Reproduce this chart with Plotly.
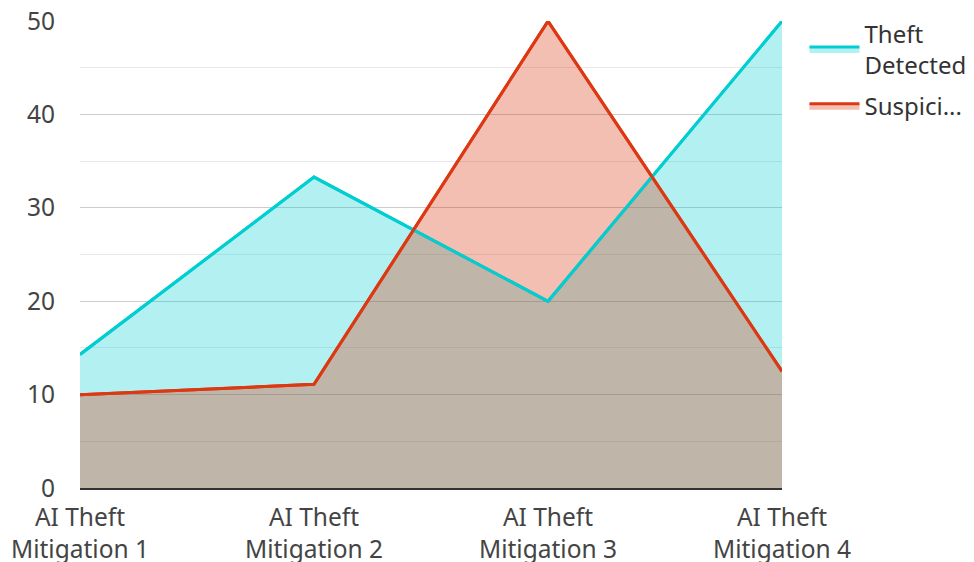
import plotly.graph_objects as go

categories = ["AI Theft<br>Mitigation 1", "AI Theft<br>Mitigation 2", "AI Theft<br>Mitigation 3", "AI Theft<br>Mitigation 4"]
theft_detected = [14.3, 33.3, 20, 50]
suspicious = [10, 11.1, 50, 12.5]
series_names = ["Theft<br>Detected", "Suspici..."]
y_ticks = [0, 10, 20, 30, 40, 50]

x_idx = list(range(len(categories)))
TEAL = "#00CED1"
RED = "#DC3912"
FS = 24.5

fig = go.Figure()
fig.add_trace(go.Scatter(
    x=x_idx, y=theft_detected, name=series_names[0], mode="lines",
    line=dict(color=TEAL, width=3), fill="tozeroy", legendgroup="a",
    fillcolor="rgba(0,206,209,0.3)"))
fig.add_trace(go.Scatter(
    x=x_idx, y=suspicious, name=series_names[1], mode="lines",
    line=dict(color=RED, width=3), fill="tozeroy", legendgroup="b",
    fillcolor="rgba(220,57,18,0.32)"))
# lines redrawn on top of all fills
fig.add_trace(go.Scatter(
    x=x_idx, y=theft_detected, mode="lines", showlegend=False,
    line=dict(color=TEAL, width=3), hoverinfo="skip"))
fig.add_trace(go.Scatter(
    x=x_idx, y=suspicious, mode="lines", showlegend=False,
    line=dict(color=RED, width=3), hoverinfo="skip"))

# page has an 8px body margin, so the figure is 966x554 placed at (8,8)
fig.update_layout(
    width=966, height=554,
    margin=dict(l=72, r=192, t=13, b=74, autoexpand=False),
    paper_bgcolor="white", plot_bgcolor="white",
    font=dict(family="Noto Sans", size=FS, color="#444444"),
    showlegend=True,
    legend=dict(x=1.032, y=1.021, xanchor="left", yanchor="top",
                font=dict(size=24, color="#333333"), tracegroupgap=7,
                itemwidth=50, bgcolor="rgba(0,0,0,0)"),
    xaxis=dict(tickmode="array", tickvals=x_idx, ticktext=categories,
               range=[0, 3], showgrid=False, zeroline=False, showline=True,
               linecolor="#333333", linewidth=2, ticks="", tickfont=dict(size=FS),
               ticklabelstandoff=7, automargin=False),
    yaxis=dict(range=[0, 50.02], tickvals=y_ticks, showgrid=True,
               gridcolor="#cccccc", gridwidth=1, zeroline=False,
               ticks="", tickfont=dict(size=FS), ticklabelstandoff=24,
               ticklabeloverflow="allow", automargin=False,
               minor=dict(dtick=5, showgrid=True, gridcolor="#e8e8e8", gridwidth=1)),
)

fig.write_html("out.html")
